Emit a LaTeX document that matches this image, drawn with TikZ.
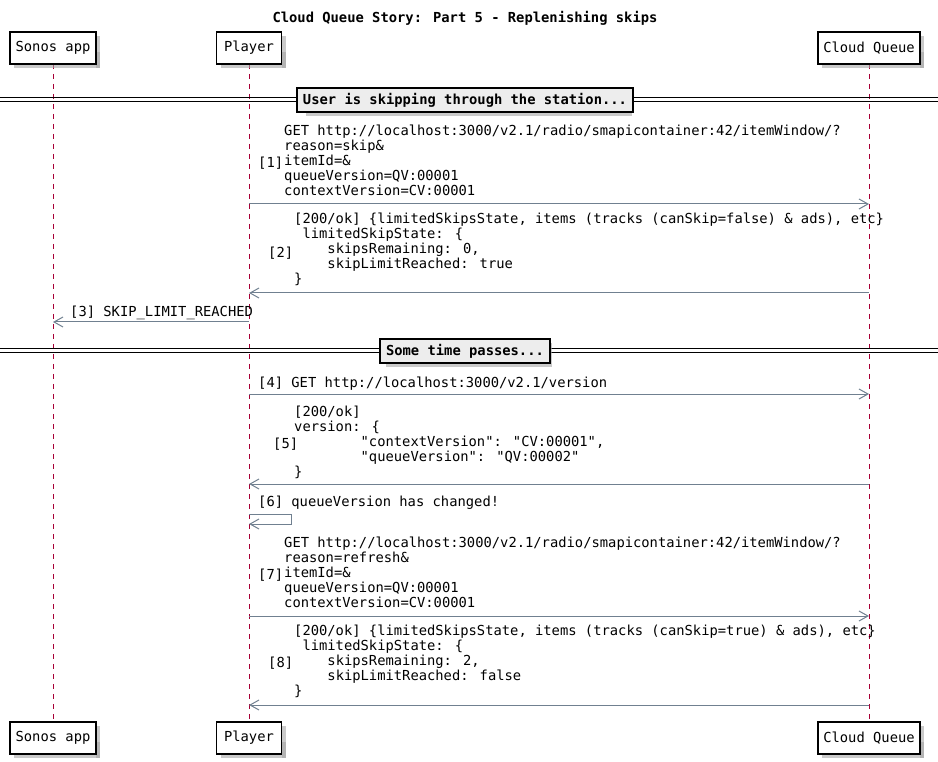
\documentclass[tikz,border=0pt]{standalone}
\usepackage{fontspec}
\newfontfamily\mono{DejaVu Sans Mono}
\usetikzlibrary{arrows.meta}
\definecolor{life}{HTML}{A80036}
\definecolor{arr}{HTML}{708090}
\newcommand\ind[1]{\hspace*{#1\dimexpr 8.31pt\relax}}
\tikzset{
  every node/.style={font=\mono\fontsize{13.8}{15}\selectfont},
  part/.style={draw=black,fill=white,line width=1.2pt,minimum width=#1,minimum height=32pt,inner sep=0pt},
  shad/.style={fill=black!35,opacity=0.6},
  lifel/.style={draw=life,dash pattern=on 5pt off 5pt,line width=0.8pt},
  msg/.style={draw=arr,line width=1pt,-{Straight Barb[length=9pt,width=10pt,line width=1pt]}},
  txt/.style={anchor=north west,align=left,inner sep=0pt},
  lbl/.style={anchor=west,inner sep=0pt},
  divbox/.style={draw=black,fill=white!93!black,line width=1.2pt,inner xsep=6pt,minimum height=24pt,font=\mono\bfseries\fontsize{13.8}{15}\selectfont}
}
\begin{document}
\begin{tikzpicture}[x=1pt,y=-1pt]
\useasboundingbox (0,0) rectangle (938,762);
\node[font=\mono\bfseries\fontsize{13.8}{15}\selectfont] (title) at (465,18) {Cloud Queue Story: Part 5 - Replenishing skips};
% lifelines
\coordinate (sA) at (53,64); \coordinate (eA) at (53,722);
\coordinate (sP) at (249,64); \coordinate (eP) at (249,722);
\coordinate (sC) at (869,64); \coordinate (eC) at (869,722);
\draw[lifel] (sA) -- (eA); \draw[lifel] (sP) -- (eP); \draw[lifel] (sC) -- (eC);
% participants
\foreach \n/\x/\w/\t in {A/53/86/Sonos app,P/249/65/Player,C/869/102/Cloud Queue}{
  \fill[shad] (\x-\w/2+4,52) rectangle (\x+\w/2+4,68);
  \fill[shad] (\x-\w/2+4,742) rectangle (\x+\w/2+4,758);
  \fill[shad] (\x+\w/2,36) rectangle (\x+\w/2+4,68);
  \fill[shad] (\x+\w/2,726) rectangle (\x+\w/2+4,758);
  \node[part=\w] (top\n) at (\x,48) {\t};
  \node[part=\w] (bot\n) at (\x,738) {\t};
}
% dividers
\draw[line width=1pt] (0,98) -- (938,98) (0,102) -- (938,102);
\fill[shad] (306,92) rectangle (632,116);
\node[divbox] (div1) at (465,100) {User is skipping through the station...};
\draw[line width=1pt] (0,349) -- (938,349) (0,353) -- (938,353);
\fill[shad] (386,343) rectangle (552,367);
\node[divbox] (div2) at (465,351) {Some time passes...};
% message 1
\node[txt] (t1) at (284,125) {GET http://localhost:3000/v2.1/radio/smapicontainer:42/itemWindow/?\\reason=skip\&\\itemId=\&\\queueVersion=QV:00001\\contextVersion=CV:00001};
\node[lbl] (n1) at (258,163) {[1]};
\coordinate (p1) at (249,204); \coordinate (c1) at (869,204);
\draw[msg] (p1) -- (c1);
% message 2
\node[txt] (t2) at (294,213) {[200/ok] \{limitedSkipsState, items (tracks (canSkip=false) \& ads), etc\}\\\ind{1}limitedSkipState: \{\\\ind{4}skipsRemaining: 0,\\\ind{4}skipLimitReached: true\\\}};
\node[lbl] (n2) at (268,253) {[2]};
\coordinate (c2) at (869,293); \coordinate (p2) at (249,293);
\draw[msg] (c2) -- (p2);
% message 3
\node[lbl] (t3) at (70,313) {[3] SKIP\_LIMIT\_REACHED};
\coordinate (p3) at (249,322); \coordinate (a3) at (53,322);
\draw[msg] (p3) -- (a3);
% message 4
\node[lbl] (t4) at (258,384) {[4] GET http://localhost:3000/v2.1/version};
\coordinate (p4) at (249,394); \coordinate (c4) at (869,394);
\draw[msg] (p4) -- (c4);
% message 5
\node[txt] (t5) at (294,406) {[200/ok]\\version: \{\\\ind{8}"contextVersion": "CV:00001",\\\ind{8}"queueVersion": "QV:00002"\\\}};
\node[lbl] (n5) at (273,444) {[5]};
\coordinate (c5) at (869,484); \coordinate (p5) at (249,484);
\draw[msg] (c5) -- (p5);
% message 6
\node[lbl] (t6) at (258,503) {[6] queueVersion has changed!};
\coordinate (p6a) at (249,514); \coordinate (p6b) at (291,514);
\coordinate (p6c) at (291,524); \coordinate (p6d) at (249,524);
\draw[msg] (p6a) -- (p6b) -- (p6c) -- (p6d);
% message 7
\node[txt] (t7) at (284,537) {GET http://localhost:3000/v2.1/radio/smapicontainer:42/itemWindow/?\\reason=refresh\&\\itemId=\&\\queueVersion=QV:00001\\contextVersion=CV:00001};
\node[lbl] (n7) at (258,575) {[7]};
\coordinate (p7) at (249,616); \coordinate (c7) at (869,616);
\draw[msg] (p7) -- (c7);
% message 8
\node[txt] (t8) at (294,625) {[200/ok] \{limitedSkipsState, items (tracks (canSkip=true) \& ads), etc\}\\\ind{1}limitedSkipState: \{\\\ind{4}skipsRemaining: 2,\\\ind{4}skipLimitReached: false\\\}};
\node[lbl] (n8) at (268,663) {[8]};
\coordinate (c8) at (869,705); \coordinate (p8) at (249,705);
\draw[msg] (c8) -- (p8);
\end{tikzpicture}
\end{document}
